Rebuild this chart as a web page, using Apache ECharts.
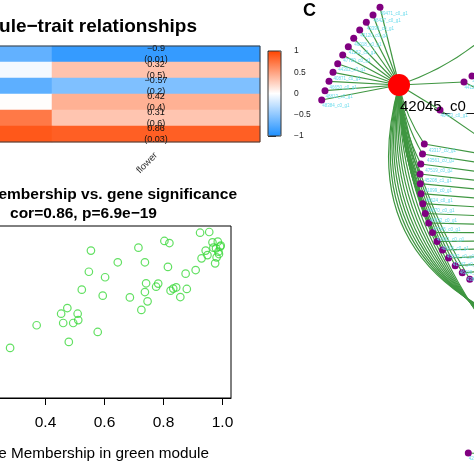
<!DOCTYPE html>
<html><head><meta charset="utf-8">
<script src="https://cdn.jsdelivr.net/npm/echarts@6/dist/echarts.min.js"></script>
<style>html,body{margin:0;padding:0;background:#fff}#c{width:474px;height:474px}</style>
</head><body><div id="c"></div>
<script>
const FONT = 'Liberation Sans, Arial, sans-serif';

// ---------- Module-trait heatmap ----------
const traitNames = ['stem', 'flower'];
const moduleNames = ['MEblue', 'MEbrown', 'MEturquoise', 'MEgrey', 'MEyellow', 'MEgreen'];
const corStem   = [-0.7, -0.05, -0.72, 0.01, 0.72, 0.9];
const pStem     = ['0.1', '0.9', '0.1', '1', '0.1', '0.01'];
const corFlower = [-0.9, 0.32, -0.57, 0.42, 0.31, 0.86];
const pFlower   = ['0.01', '0.5', '0.2', '0.4', '0.6', '0.03'];
const colorbarTicks = [-1, -0.5, 0, 0.5, 1];

// ---------- MM vs GS scatter ----------
const mmGreen = [0.924,0.955,0.803,0.820,0.966,0.984,0.969,0.978,0.992,0.994,0.943,0.986,0.949,0.929,0.980,0.975,
  0.554,0.715,0.645,0.737,0.815,0.909,0.875,0.547,0.602,0.523,0.594,0.741,0.782,0.775,0.737,0.686,0.746,0.725,
  0.824,0.833,0.843,0.879,0.857,0.474,0.453,0.509,0.511,0.460,0.494,0.370,0.577,0.479,0.280,0.988];
const gsFlower = [0.961,0.965,0.913,0.901,0.905,0.909,0.874,0.870,0.880,0.886,0.857,0.851,0.831,0.812,0.818,0.783,
  0.857,0.874,0.789,0.789,0.762,0.744,0.723,0.734,0.702,0.630,0.595,0.667,0.665,0.647,0.616,0.585,0.562,0.512,
  0.624,0.636,0.643,0.634,0.587,0.523,0.490,0.490,0.453,0.436,0.436,0.423,0.384,0.326,0.291,0.837];
const mmTicks = [0.4, 0.6, 0.8, 1.0];

// ---------- Co-expression network (layout coordinates, hub at origin) ----------
const hubName = '42045_c0_g1';
const fanNames = ['49471_c0_g1','48427_c0_g1','43390_c0_g1','45120_c0_g2','46018_c0_g1','41152_c0_g1',
  '47789_c0_g1','44302_c0_g1','40871_c0_g1','46650_c0_g1','48813_c0_g1','48384_c0_g1'];
const fanX = [-19,-26,-32.7,-39.3,-45.3,-50.7,-56.3,-61.3,-66,-70,-74,-77.3];
const fanY = [-77.7,-70,-62.7,-55,-46.7,-38.3,-30,-21.3,-12.7,-3.7,5.7,15];
const arcNames = ['43317_c0_g1','43561_c0_g1','47519_c0_g2','45208_c1_g1','41099_c0_g1','46624_c0_g1',
  '44870_c0_g1','40532_c0_g1','47345_c0_g1','42981_c0_g1','48106_c0_g1','45563_c0_g1','41747_c0_g1',
  '46290_c0_g1','43804_c0_g1','49012_c0_g1'];
const arcX = [25.3,23.5,21.8,21.1,21.3,22,23.8,26.3,29.7,33.5,38,43.5,49.5,56.2,63.3,70.8];
const arcY = [59,69,79,89,98.7,108.7,118.7,128.5,138,147.5,156.5,165,173,180.7,187.8,194.2];
const sideNames = ['44126_c0_g1','48950_c0_g1','46433_c0_g1','42718_c0_g1'];
const sideX = [65,73,41,69.3];
const sideY = [-3,-9,25,368];
// curved hub edges that leave the panel at its lower right
const bundleX = [121,119,117,115,113,111,109,107,105,103,101];
const bundleY = [240,242,244,246,248,250,252,254,256,258,260];
const bundleCurve = [-0.45,-0.42,-0.39,-0.36,-0.33,-0.30,-0.27,-0.24,-0.21,-0.18,-0.15];

const chart = echarts.init(document.getElementById('c'), null, {renderer: 'canvas'});
const minus = v => String(v).replace('-', '\u2212');

// heatmap data
const heatData = [];
moduleNames.forEach((m, r) => {
  heatData.push([0, r, corStem[r]]);
  heatData.push([1, r, corFlower[r]]);
});

// network nodes/links
const PURPLE = '#800080', CYAN = '#6adcec', EDGE = '#3f9641';
const nodes = [], links = [];
nodes.push({name: hubName, value: [0, 0], symbolSize: 22, itemStyle: {color: '#ff0000'},
  label: {show: true, position: [12, 25], fontSize: 15, color: '#000', fontFamily: FONT, formatter: '{b}'}});
function leaf(name, x, y, pos) {
  nodes.push({name, value: [x, y], symbolSize: 7, itemStyle: {color: PURPLE},
    label: {show: true, position: pos, fontSize: 4.5, color: CYAN, fontFamily: FONT, formatter: '{b}'}});
}
function ghost(name, x, y) {
  nodes.push({name, value: [x, y], symbolSize: 0, itemStyle: {color: 'rgba(0,0,0,0)'}, label: {show: false}});
}
fanNames.forEach((n, i) => { leaf(n, fanX[i], fanY[i], [4, 7]); links.push({source: hubName, target: n}); });
ghost('hubB', 551, 150);
arcNames.forEach((n, i) => {
  leaf(n, arcX[i], arcY[i], [8, 8]);
  links.push({source: hubName, target: n, lineStyle: {curveness: -0.1}});
  links.push({source: n, target: 'hubB'});
});
sideNames.forEach((n, i) => leaf(n, sideX[i], sideY[i], [4, 7]));
ghost('extUp', 121, -85);
links.push({source: hubName, target: 'extUp', lineStyle: {curveness: -0.15}});
links.push({source: hubName, target: sideNames[0]});
links.push({source: hubName, target: sideNames[2]});
ghost('extA', 121, 80); links.push({source: sideNames[2], target: 'extA'});
ghost('extB', 150, 5);  links.push({source: sideNames[1], target: 'extB'});
ghost('extC', 120, 25); links.push({source: sideNames[0], target: 'extC'});
ghost('extD', 160, 372); links.push({source: sideNames[3], target: 'extD'});
bundleCurve.forEach((c, k) => {
  const nm = 'bund' + k;
  ghost(nm, bundleX[k], bundleY[k]);
  links.push({source: hubName, target: nm, lineStyle: {curveness: c}});
});

const option = {
  animation: false,
  backgroundColor: '#ffffff',
  textStyle: {fontFamily: FONT},
  grid: [
    {left: -156, top: 46, width: 416, height: 96, show: true, borderColor: '#3a3a3a', borderWidth: 1, backgroundColor: 'transparent', z: 5, outerBoundsMode: 'none', containLabel: false},
    {left: 268, top: 51, width: 13, height: 85, show: true, borderColor: '#333', borderWidth: 1, backgroundColor: 'transparent', z: 5, outerBoundsMode: 'none', containLabel: false},
    {left: -43, top: 226, width: 274, height: 172, show: true, borderColor: '#000', borderWidth: 1, backgroundColor: 'transparent', z: 5, outerBoundsMode: 'none', containLabel: false},
    {left: 290, top: 0, width: 184, height: 474, show: false, outerBoundsMode: 'none', containLabel: false}
  ],
  xAxis: [
    {gridIndex: 0, type: 'category', data: traitNames, axisLine: {show: false}, axisTick: {show: false},
      axisLabel: {rotate: 45, fontSize: 9.5, color: '#333', margin: 12, fontFamily: FONT}, splitLine: {show: false}},
    {gridIndex: 1, type: 'value', show: false},
    {gridIndex: 2, type: 'value', min: 0.1, max: 1.0288, axisLine: {show: true, lineStyle: {color: '#000'}},
      axisTick: {show: true, length: 7, customValues: mmTicks, lineStyle: {color: '#000'}},
      axisLabel: {customValues: mmTicks, fontSize: 15.5, color: '#000', margin: 17, fontFamily: FONT, formatter: v => v.toFixed(1)},
      splitLine: {show: false}},
    {gridIndex: 3, type: 'value', min: -109, max: 75, show: false}
  ],
  yAxis: [
    {gridIndex: 0, type: 'category', data: moduleNames, inverse: true, axisLine: {show: false}, axisTick: {show: false}, axisLabel: {show: false}},
    {gridIndex: 1, type: 'value', min: -1, max: 1, interval: 0.5, position: 'right',
      axisLine: {show: false}, axisTick: {show: true, length: 8, lineStyle: {color: '#333'}},
      axisLabel: {fontSize: 8.5, color: '#222', margin: 13, fontFamily: FONT, formatter: v => minus(v)}, splitLine: {show: false}},
    {gridIndex: 2, type: 'value', min: 0, max: 1, show: false},
    {gridIndex: 3, type: 'value', min: -85, max: 389, inverse: true, show: false}
  ],
  visualMap: {
    type: 'continuous', seriesIndex: 0, dimension: 2, min: -1, max: 1, calculable: false,
    orient: 'vertical', left: 268, top: 51, itemWidth: 13, itemHeight: 85, padding: 0,
    inRange: {color: ['#1E90FF', '#FFFFFF', '#FF4500']}
  },
  graphic: [
    {type: 'text', x: 197, y: 26.5, style: {text: 'Module\u2212trait relationships', font: 'bold 19px ' + FONT, fill: '#000', align: 'right', verticalAlign: 'middle', textAlign: 'right', textVerticalAlign: 'middle'}},
    {type: 'text', x: 237, y: 194.6, style: {text: 'Module Membership vs. gene significance', font: 'bold 15.5px ' + FONT, fill: '#000', align: 'right', verticalAlign: 'middle', textAlign: 'right', textVerticalAlign: 'middle'}},
    {type: 'text', x: 83.5, y: 214, style: {text: 'cor=0.86, p=6.9e\u221219', font: 'bold 15.5px ' + FONT, fill: '#000', align: 'center', verticalAlign: 'middle', textAlign: 'center', textVerticalAlign: 'middle'}},
    {type: 'text', x: 209, y: 454, style: {text: 'Module Membership in green module', font: '15.3px ' + FONT, fill: '#000', align: 'right', verticalAlign: 'middle', textAlign: 'right', textVerticalAlign: 'middle'}},
    {type: 'text', x: 303, y: 11.5, style: {text: 'C', font: 'bold 18px ' + FONT, fill: '#000', align: 'left', verticalAlign: 'middle', textAlign: 'left', textVerticalAlign: 'middle'}}
  ],
  series: [
    {type: 'heatmap', xAxisIndex: 0, yAxisIndex: 0, data: heatData, emphasis: {disabled: true},
      label: {show: true, fontSize: 9, lineHeight: 10.7, color: '#111', fontFamily: FONT,
        formatter: p => {
          const c = p.value[0], r = p.value[1];
          const pv = c === 0 ? pStem[r] : pFlower[r];
          return minus(p.value[2]) + '\n(' + pv + ')';
        }}},
    {type: 'scatter', xAxisIndex: 2, yAxisIndex: 2, data: mmGreen.map((x, i) => [x, gsFlower[i]]),
      symbol: 'circle', symbolSize: 7.5, silent: true,
      itemStyle: {color: 'rgba(0,0,0,0)', borderColor: '#3bd83b', borderWidth: 1.2}},
    {type: 'graph', coordinateSystem: 'cartesian2d', xAxisIndex: 3, yAxisIndex: 3, layout: 'none',
      data: nodes, links: links, symbol: 'circle', edgeSymbol: ['none', 'none'], silent: true,
      lineStyle: {color: EDGE, width: 1.2, opacity: 1}, emphasis: {disabled: true}}
  ]
};
chart.setOption(option);
</script></body></html>
